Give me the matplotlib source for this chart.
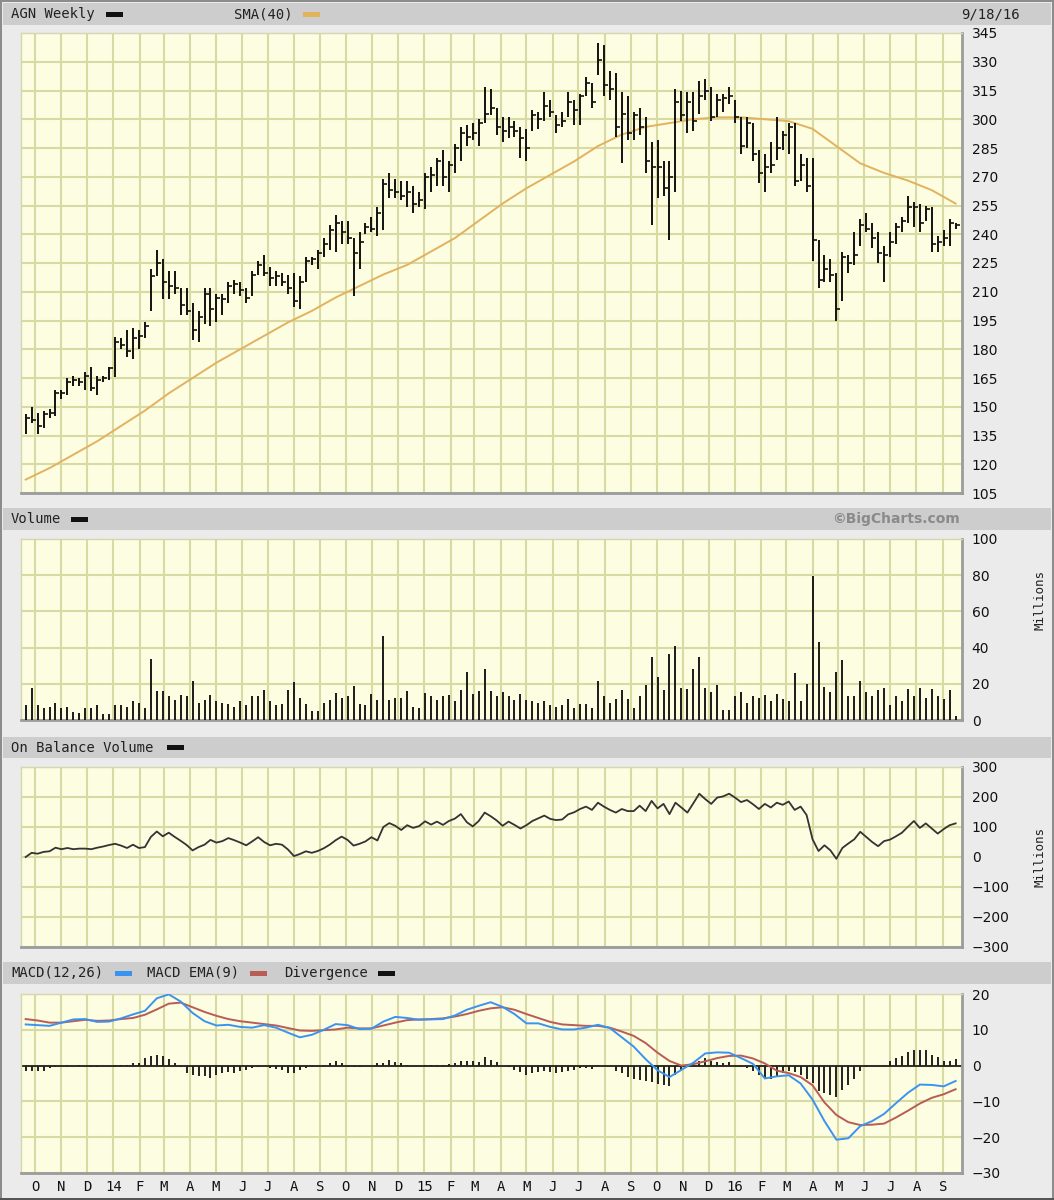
import matplotlib
matplotlib.use('Agg')
import matplotlib.pyplot as plt
import matplotlib.dates as mdates
from matplotlib.patches import Rectangle
import pandas as pd

# weekly bars, Friday dates
weeks = pd.date_range('2013-09-20', periods=157, freq='7D')
month_starts = pd.date_range('2013-10-01', '2016-09-01', freq='MS')
month_labels = [str(d.year)[2:] if d.month == 1 else 'JFMAMJJASOND'[d.month - 1] for d in month_starts]

high = [146, 150, 147, 148, 149, 159, 159, 165, 166, 165,
        168, 171, 166, 166, 171, 186.5, 186, 190, 191, 190,
        194, 222, 232, 227, 221, 221, 212, 212, 204, 200,
        212, 212, 209, 209, 215, 216, 215, 212, 221, 226,
        229, 223, 221, 220, 219, 220, 218, 228, 228, 232,
        238, 245, 250, 247, 247, 238, 241, 246, 249, 254,
        269, 272, 269, 268, 268, 265, 262, 272, 275, 280,
        284, 278, 287, 296, 297, 298, 300, 317, 316, 306,
        301, 301, 299, 296, 295, 305, 304, 314, 310, 302,
        304, 314, 310, 313, 322, 319, 340, 339, 325, 324,
        314, 312, 304, 306, 301, 288, 289, 278, 278, 316,
        315, 314, 314, 320, 321, 317, 313, 313, 317, 310,
        301, 301, 298, 284, 282, 288, 301, 294, 298, 298,
        282, 280, 280, 237, 229, 227, 220, 231, 229, 241,
        248, 251, 246, 241, 234, 241, 246, 249, 260, 257,
        256, 255, 254, 239, 242, 248, 246]
low = [136, 141.5, 136, 139, 144, 145, 154, 156, 161, 161,
       159, 158, 156, 163, 164, 165.5, 180, 176, 175, 180,
       186, 200, 218, 206, 206, 209, 198, 198, 185, 184,
       193, 192, 194, 198, 204, 209, 208, 204, 208, 219,
       218, 213, 213, 213, 209, 202, 201, 215, 224, 222,
       228, 232, 231, 235, 235, 208, 222, 240, 241, 239,
       242, 259, 259, 258, 254, 251, 254, 253, 262, 265,
       265, 262, 272, 278, 286, 289, 286, 298, 302, 292,
       288, 290, 291, 280, 278, 294, 295, 299, 301, 293,
       296, 301, 297, 297, 312, 306, 323, 312, 310, 291,
       277, 289, 289, 292, 272, 245, 259, 260, 237, 262,
       299, 293, 294, 303, 310, 299, 301, 304, 308, 298,
       282, 285, 278, 267, 262, 272, 279, 284, 282, 265,
       268, 262, 226, 212, 215, 215, 195, 205, 220, 224,
       234, 241, 233, 225, 215, 228, 235, 241, 246, 244,
       241, 247, 231, 231, 234, 234, 243]
close = [144, 143, 140, 146, 147, 157, 157, 163, 164, 163,
         166, 160, 164, 165, 170, 184, 182, 179, 186, 187,
         192, 218, 225, 215, 213, 212, 203, 200, 190, 197,
         209, 201, 207, 206, 213, 214, 211, 207, 219, 224,
         220, 217, 218, 215, 212, 205, 215, 226, 227, 230,
         235, 242, 246, 241, 238, 230, 236, 244, 243, 251,
         266, 263, 262, 260, 262, 256, 258, 270, 271, 278,
         270, 276, 285, 293, 291, 293, 298, 303, 306, 296,
         294, 296, 294, 290, 285, 302, 300, 307, 304, 297,
         299, 309, 305, 312, 319, 309, 331, 318, 316, 296,
         303, 293, 302, 296, 278, 275, 275, 264, 270, 309,
         302, 309, 299, 312, 315, 301, 310, 311, 312, 301,
         286, 298, 282, 272, 275, 276, 285, 292, 296, 268,
         276, 265, 237, 216, 222, 219, 201, 228, 225, 229,
         245, 243, 238, 230, 229, 236, 244, 247, 254, 254,
         246, 253, 235, 236, 238, 246, 245]

# SMA(40) read every 4th week
sma_weeks = weeks[::4]
sma40 = [112, 118, 125, 132, 140, 148, 157, 165, 173, 180,
         187, 194, 200, 207, 213, 219, 224, 231, 238, 247,
         256, 264, 271, 278, 286, 292, 296, 298, 300, 301,
         301, 300, 299, 295, 286, 277, 272, 268, 263, 256]

volume = [8.3, 17.7, 8.3, 6.4, 7.4, 9.4, 6.4, 7.4, 4.6, 3.9,
          6.4, 6.4, 8.3, 3.3, 3.3, 8.3, 8.3, 7.4, 10.3, 9.4,
          6.4, 33.7, 15.8, 15.8, 13.1, 11.2, 13.8, 13.1, 21.7, 9.4,
          11.2, 13.8, 10.3, 9.4, 8.8, 7.4, 10.3, 8.3, 13.1, 13.1,
          16.7, 10.3, 8.3, 8.8, 16.7, 20.8, 12.1, 8.8, 5.2, 5.2,
          9.4, 11.2, 14.9, 12.1, 13.1, 19.0, 8.8, 8.3, 14.4, 11.2,
          46.6, 11.2, 12.1, 12.1, 15.8, 7.4, 6.4, 14.9, 13.1, 11.2,
          13.1, 13.8, 10.3, 16.7, 26.7, 14.4, 15.8, 28.2, 15.8, 13.1,
          15.6, 13.4, 10.8, 14.6, 10.8, 10.5, 9.6, 10.5, 8.3, 7.4,
          8.3, 11.5, 6.5, 8.7, 8.9, 6.5, 21.8, 13, 9.6, 11.5,
          16.3, 11.5, 6.5, 13, 19.4, 34.8, 23.5, 16.3, 36.6, 40.7,
          17.9, 17.2, 28.3, 34.8, 17.9, 15.4, 19.4, 5.6, 5.6, 13.5,
          15.4, 9.6, 13, 12.4, 13.9, 10.5, 14.2, 11.5, 10.5, 25.9,
          10.5, 20, 79.6, 42.9, 18.5, 15.4, 26.3, 33.3, 13.5, 13.5,
          21.8, 15.4, 13.5, 16.3, 17.6, 8.3, 13, 10.5, 17.2, 13.5,
          17.9, 12.4, 17.2, 13.5, 11.5, 16.3, 2.4]

obv = [0, 14, 11, 17, 19, 31, 26, 30, 26, 28,
       28, 26, 31, 35, 40, 44, 38, 30, 41, 30,
       33, 67, 85, 69, 81, 67, 54, 40, 22, 33,
       41, 57, 48, 53, 63, 56, 48, 39, 52, 66,
       50, 39, 44, 41, 25, 3, 10, 19, 14, 20,
       29, 41, 56, 68, 57, 38, 44, 52, 66, 55,
       100, 113, 104, 90, 106, 97, 103, 119, 108, 118,
       107, 120, 128, 143, 116, 102, 120, 148, 136, 122,
       104, 118, 107, 95, 106, 120, 129, 138, 127, 123,
       125, 142, 149, 160, 168, 157, 181, 168, 157, 148,
       160, 153, 153, 171, 153, 187, 162, 177, 143, 181,
       165, 148, 179, 211, 193, 177, 198, 202, 211, 198,
       183, 190, 176, 160, 177, 165, 181, 174, 185, 157,
       168, 140, 59, 20, 39, 22, -6, 30, 45, 59,
       84, 67, 50, 36, 53, 58, 69, 81, 101, 120,
       97, 112, 95, 78, 93, 106, 112]

# MACD lines read every 2nd week
macd_weeks = weeks[::2]
macd = [11.5, 11.3, 11.1, 12.0, 12.9, 13.0, 12.2, 12.3, 13.2, 14.3,
        15.3, 18.8, 19.9, 17.9, 14.7, 12.4, 11.2, 11.4, 10.8, 10.6,
        11.3, 10.6, 9.2, 7.9, 8.6, 10.0, 11.6, 11.3, 10.2, 10.3,
        12.3, 13.6, 13.3, 12.8, 12.9, 13.0, 14.0, 15.6, 16.7, 17.7,
        16.4, 14.4, 11.8, 11.8, 10.8, 10.1, 10.1, 10.6, 11.4, 10.5,
        7.9, 5.3, 1.8, -1.3, -3.2, -1.2, 0.8, 3.4, 3.7, 3.6,
        2.1, 0.5, -3.6, -3.0, -2.7, -5.0, -9.5, -15.5, -20.7, -20.3,
        -16.9, -15.5, -13.5, -10.5, -7.6, -5.3, -5.4, -5.8, -4.3]
macd_ema = [13.0, 12.6, 12.0, 12.0, 12.4, 12.8, 12.5, 12.6, 13.0, 13.3,
            14.2, 15.7, 17.3, 17.6, 16.3, 15.0, 13.9, 13.0, 12.4, 12.0,
            11.6, 11.2, 10.5, 9.8, 9.7, 9.9, 10.1, 10.6, 10.4, 10.4,
            11.2, 12.0, 12.7, 12.9, 13.0, 13.2, 13.7, 14.4, 15.3, 16.0,
            16.3, 15.6, 14.4, 13.3, 12.2, 11.5, 11.3, 11.1, 11.1, 10.6,
            9.5, 8.3, 6.3, 3.6, 1.3, 0.0, 0.4, 1.2, 2.1, 2.7,
            2.8, 2.0, 0.6, -1.4, -2.1, -3.2, -5.5, -10.3, -13.8, -15.8,
            -16.6, -16.5, -16.2, -14.5, -12.6, -10.6, -9.0, -8.0, -6.6]
divergence = [-1.6, -1.6, -1.4, -1.6, -0.8, -0.5, 0.0, 0.2, 0.0, 0.1,
              0.0, -0.3, -0.4, -0.2, 0.0, 0.2, 0.3, 0.3, 0.6, 0.8,
              2.2, 2.8, 3.1, 2.8, 1.9, 0.6, -0.4, -2.1, -2.5, -2.8,
              -3.0, -3.5, -2.5, -2.1, -1.9, -2.1, -1.6, -1.3, -0.7, -0.4,
              -0.2, -0.7, -0.9, -1.1, -2.1, -2.1, -1.1, -0.7, -0.4, 0.0,
              0.3, 0.6, 1.4, 0.8, -0.4, -0.4, -0.3, 0.0, 0.0, 0.8,
              0.8, 1.7, 0.9, 0.6, 0.1, 0.0, 0.0, 0.1, 0.2, 0.2,
              0.3, 0.4, 0.6, 1.2, 1.2, 1.2, 0.9, 2.3, 1.7, 0.9,
              0.0, -0.4, -1.1, -1.9, -2.5, -2.1, -1.9, -1.6, -1.9, -2.1,
              -1.9, -1.4, -1.1, -0.7, -0.7, -0.9, 0.1, 0.0, -0.2, -1.6,
              -2.1, -3.2, -3.8, -3.9, -4.4, -4.7, -5.1, -5.4, -5.8, -2.5,
              -1.1, -0.4, 0.6, 1.2, 2.2, 1.2, 0.9, 0.8, 0.9, 0.0,
              -0.4, -0.7, -1.6, -2.5, -3.5, -3.8, -2.8, -2.1, -1.6, -1.9,
              -2.5, -3.8, -4.9, -7.2, -7.7, -8.2, -8.8, -6.8, -5.4, -3.8,
              -1.6, -0.5, -0.2, 0.0, 0.3, 1.2, 2.2, 2.8, 3.8, 4.3,
              4.3, 4.3, 3.1, 2.4, 1.4, 1.2, 1.9]

W, H = 1054, 1200
BG = '#ebebeb'
BAR = '#cdcdcd'
PLOT_BG = '#fdfde2'
GRID = '#d9d9a2'
MONO = 'DejaVu Sans Mono'

fig = plt.figure(figsize=(W / 100, H / 100), dpi=100, facecolor=BG)


def px_axes(x0, y0, x1, y1):
    return fig.add_axes([x0 / W, 1 - y1 / H, (x1 - x0) / W, (y1 - y0) / H])


def fig_rect(x0, y0, x1, y1, color, **kw):
    fig.patches.append(Rectangle((x0 / W, 1 - y1 / H), (x1 - x0) / W, (y1 - y0) / H,
                                 transform=fig.transFigure, facecolor=color,
                                 edgecolor='none', **kw))


def fig_text(x, y, s, **kw):
    fig.text(x / W, 1 - y / H, s, va='center', **kw)


def header(y0, y1, items):
    fig_rect(3, y0, 1051, y1, BAR)
    ym = (y0 + y1) / 2
    for x, label, sx, col in items:
        fig_text(x, ym, label, family=MONO, fontsize=10, color='#222222')
        fig_rect(sx, ym - 2.5, sx + 17, ym + 2.5, col)


def style(ax, ylo, yhi, step, labels=False):
    ax.set_facecolor(PLOT_BG)
    ax.set_xlim(pd.Timestamp('2013-09-14 12:00'), pd.Timestamp('2016-09-23 12:00'))
    ax.set_ylim(ylo, yhi)
    ax.set_yticks(range(ylo, yhi + 1, step))
    ax.yaxis.tick_right()
    ax.set_xticks(month_starts)
    if labels:
        ax.set_xticklabels(month_labels, family=MONO, fontsize=9.5)
    else:
        ax.set_xticklabels([])
    ax.tick_params(axis='both', length=0, labelsize=10, colors='#111111')
    ax.tick_params(axis='y', pad=7)
    ax.tick_params(axis='x', pad=5)
    ax.grid(True, color=GRID, lw=1.5)
    ax.set_axisbelow(True)
    for side in ['left', 'top']:
        ax.spines[side].set_color('#d6d6b0')
        ax.spines[side].set_linewidth(1)
    for side in ['right', 'bottom']:
        ax.spines[side].set_color('#9c9c9c')
        ax.spines[side].set_linewidth(2)


# outer frame
fig_rect(0, 0, W, 2, '#8c8c8c')
fig_rect(0, 0, 2, H, '#8c8c8c')
fig_rect(W - 2, 0, W, H, '#8c8c8c')
fig_rect(0, H - 2, W, H, '#555555')

# price panel
header(3, 25, [(11, 'AGN Weekly', 106, '#111111'), (234, 'SMA(40)', 303, '#e0b45a')])
fig_text(961, 14, '9/18/16', family=MONO, fontsize=10, color='#222222')
ax1 = px_axes(21, 33, 962, 493)
style(ax1, 105, 345, 15)
ax1.plot(sma_weeks, sma40, color='#e2b25e', lw=1.4, zorder=2)
ax1.vlines(weeks, low, high, color='#111111', lw=1.4, zorder=3)
ax1.plot(weeks, close, ls='none', marker=1, markersize=3, mew=1.2, color='#111111', zorder=3)

# volume panel
header(508, 530, [(11, 'Volume', 71, '#111111')])
fig_text(960, 519, '\u00a9BigCharts.com', ha='right', fontsize=10, fontweight='bold', color='#8a8a8a')
ax2 = px_axes(21, 539, 962, 720)
style(ax2, 0, 100, 20)
ax2.vlines(weeks, 0, volume, color='#1a1a1a', lw=1.4, zorder=3)
fig_text(1040, 600, 'Millions', rotation=90, ha='center', family=MONO, fontsize=9, color='#222222')

# on balance volume
header(737, 758, [(11, 'On Balance Volume', 167, '#111111')])
ax3 = px_axes(21, 767, 962, 947)
style(ax3, -300, 300, 100)
ax3.plot(weeks, obv, color='#333333', lw=1.3, zorder=3)
fig_text(1040, 857, 'Millions', rotation=90, ha='center', family=MONO, fontsize=9, color='#222222')

# MACD
header(962, 984, [(11, 'MACD(12,26)', 115, '#3b93f0'),
                  (147, 'MACD EMA(9)', 250, '#b85c55'),
                  (284, 'Divergence', 378, '#111111')])
ax4 = px_axes(21, 994, 962, 1173)
style(ax4, -30, 20, 10, labels=True)
ax4.axhline(0, color='#111111', lw=1.2, zorder=2)
ax4.vlines(weeks, 0, divergence, color='#222222', lw=1.4, zorder=3)
ax4.plot(macd_weeks, macd_ema, color='#b85c55', lw=1.4, zorder=4)
ax4.plot(macd_weeks, macd, color='#3b93f0', lw=1.4, zorder=5)

fig.savefig('out.png', dpi=100, facecolor=BG)
